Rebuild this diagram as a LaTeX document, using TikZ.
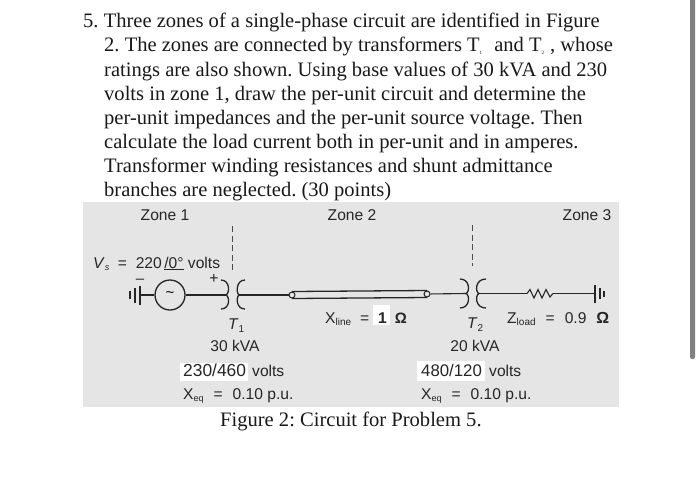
\documentclass[tikz,border=0pt]{standalone}
\usepackage{fontspec}
\setmainfont{Liberation Serif}
\newfontfamily\lab{Liberation Sans}
\frenchspacing
\tikzset{
  x=1pt,y=-1pt,
  txt/.style={anchor=base west,inner sep=0pt,font=\fontsize{20.55}{24}\selectfont,text=black!90},
  lbl/.style={inner sep=0pt,font=\lab\fontsize{15.6}{17}\selectfont,text=black!85},
  lblw/.style={lbl,anchor=base west},
  wire/.style={line width=1.1pt,draw=black!85},
  zonedash/.style={line width=0.8pt,draw=black!70,dash pattern=on 6pt off 3.5pt},
  coil/.style={line width=1.3pt,draw=black!85},
  whitebox/.style={fill=white,draw=none},
}
\begin{document}
\begin{tikzpicture}
\useasboundingbox (0,0) rectangle (700,477);
\fill[white] (0,0) rectangle (700,477);
% problem text
\node[txt] (l1) at (83,27) {5. Three zones of a single-phase circuit are identified in Figure};
\node[txt] (l2) at (104,51) {2. The zones are connected by transformers T\raisebox{-3pt}{\fontsize{5}{5}\selectfont 1}\hspace{7pt} and T\raisebox{-3pt}{\fontsize{5}{5}\selectfont 2}\hspace{6pt}, whose};
\node[txt] (l3) at (104,76) {ratings are also shown. Using base values of 30 kVA and 230};
\node[txt] (l4) at (104,100) {volts in zone 1, draw the per-unit circuit and determine the};
\node[txt] (l5) at (104,124) {per-unit impedances and the per-unit source voltage. Then};
\node[txt] (l6) at (104,148) {calculate the load current both in per-unit and in amperes.};
\node[txt] (l7) at (104,172) {Transformer winding resistances and shunt admittance};
\node[txt] (l8) at (104,196) {branches are neglected. (30 points)};
% panel
\fill[black!10] (83,202) rectangle (619,407);
\fill[whitebox] (373,305) rectangle (390,325);
\fill[whitebox] (180,363) rectangle (248,381);
\fill[whitebox] (417,361) rectangle (485,381);
% scrollbar
\fill[black!50,rounded corners=2pt] (690,-5) rectangle (695,359);
% zone labels
\node[lbl] (z1) at (165,215) {Zone 1};
\node[lbl] (z2) at (352,215) {Zone 2};
\node[lbl] (z3) at (587,215) {Zone 3};
\coordinate (d1a) at (232.7,226); \coordinate (d1b) at (232.7,271);
\coordinate (d2a) at (472,225); \coordinate (d2b) at (472,266);
\draw[zonedash] (d1a) -- (d1b);
\draw[zonedash] (d2a) -- (d2b);
% source
\node[lblw] (vs) at (93,268) {\textit{V}\raisebox{-2pt}{\fontsize{9}{9}\selectfont\textit{s}}\ \ =\ \ 220\,\underline{/0°} volts};
\node[lbl,font=\lab\fontsize{15}{15}\selectfont] (minus) at (140,283) {\smash{–}};
\node[lbl] (plus) at (214,279) {+};
\node[circle,draw=black!85,line width=1.3pt,minimum size=30pt,inner sep=0pt] (src) at (170,295) {\lab\fontsize{15}{15}\selectfont\textasciitilde};
\coordinate (g1a) at (140,286); \coordinate (g1b) at (140,305);
\coordinate (g2a) at (135,288); \coordinate (g2b) at (135,303);
\coordinate (g3a) at (130,291); \coordinate (g3b) at (130,299);
\draw[wire,line width=1.3pt] (g1a) -- (g1b);
\draw[wire,line width=1.3pt] (g2a) -- (g2b);
\draw[wire,line width=1.8pt] (g3a) -- (g3b);
\coordinate (g1m) at (140,295);
\draw[wire] (g1m) -- (src);
% T1
\coordinate (t1p) at (226,295);
\coordinate (t1s) at (239,295);
\draw[wire] (src) -- (t1p);
\draw[coil] (221,280) .. controls (230,280) and (230,293) .. (t1p) .. controls (230,297) and (230,309) .. (221,309);
\draw[coil] (245,280) .. controls (236,280) and (236,293) .. (t1s) .. controls (236,297) and (236,309) .. (245,309);
% line
\node[circle,draw=black!85,line width=1pt,fill=black!10,minimum size=6pt,inner sep=0pt] (la) at (292,295) {};
\node[circle,draw=black!85,line width=1pt,fill=black!10,minimum size=6pt,inner sep=0pt] (lb) at (427,294) {};
\draw[wire] (t1s) -- (la);
\draw[wire,line width=1.3pt] (la.north) -- (lb.north);
\draw[wire,line width=1.3pt] (la.south) -- (lb.south);
% T2
\coordinate (t2p) at (466,293.5);
\coordinate (t2s) at (479,293.5);
\draw[wire] (lb) -- (t2p);
\draw[coil] (460,279) .. controls (470,279) and (470,292) .. (t2p) .. controls (470,295) and (470,308) .. (460,308);
\draw[coil] (486,279) .. controls (475,279) and (475,292) .. (t2s) .. controls (475,295) and (475,308) .. (486,308);
% load
\coordinate (ra) at (527,293.5);
\coordinate (rb) at (553,293.5);
\coordinate (g4a) at (595,285); \coordinate (g4b) at (595,303);
\coordinate (g5a) at (600,288); \coordinate (g5b) at (600,299);
\coordinate (g6a) at (604,291); \coordinate (g6b) at (604,297);
\coordinate (g4m) at (595,293.5);
\draw[wire] (t2s) -- (ra);
\draw[wire] (ra) -- (530,289.5) -- (534,298) -- (538,289.5) -- (542,298) -- (546,289.5) -- (550,297) -- (rb);
\draw[wire] (rb) -- (g4m);
\draw[wire,line width=1.3pt] (g4a) -- (g4b);
\draw[wire,line width=1.3pt] (g5a) -- (g5b);
\draw[wire,line width=1.8pt] (g6a) -- (g6b);
% labels
\node[lblw] (t1l) at (228,329) {\textit{T}\raisebox{-3pt}{\fontsize{10}{10}\selectfont 1}};
\node[lblw] (t2l) at (467,328) {\textit{T}\raisebox{-3pt}{\fontsize{10}{10}\selectfont 2}};
\node[lblw] (xl) at (325,323) {X\raisebox{-2.5pt}{\fontsize{10}{10}\selectfont line}\hspace{9pt}=};
\node[lblw] (xv) at (378,323) {\textbf{1}\hspace{8pt}{\fontsize{15}{15}\selectfont\textbf{Ω}}};
\node[lblw] (zl) at (507,323) {Z\raisebox{-2.5pt}{\fontsize{10}{10}\selectfont load}\hspace{10pt}=\hspace{10pt}0.9\hspace{10pt}{\fontsize{16}{16}\selectfont\textbf{Ω}}};
\node[lbl] (k1) at (235,346) {30 kVA};
\node[lbl] (k2) at (475,346) {20 kVA};
\node[lblw,font=\lab\fontsize{17.4}{17}\selectfont] (v1) at (183,376.5) {230/460};
\node[lblw] at (252,376) (v1u) {volts};
\node[lblw,font=\lab\fontsize{16.8}{17}\selectfont] (v2) at (421,376.5) {480/120};
\node[lblw] at (489,376) (v2u) {volts};
\node[lblw] (x1) at (183,399) {X\raisebox{-2.5pt}{\fontsize{9}{9}\selectfont eq}\hspace{10pt}=\hspace{10pt}0.10 p.u.};
\node[lblw] (x2) at (421,399) {X\raisebox{-2.5pt}{\fontsize{9}{9}\selectfont eq}\hspace{10pt}=\hspace{10pt}0.10 p.u.};
\node[txt] (cap) at (220,426) {Figure 2: Circuit for Problem 5.};
\end{tikzpicture}
\end{document}
